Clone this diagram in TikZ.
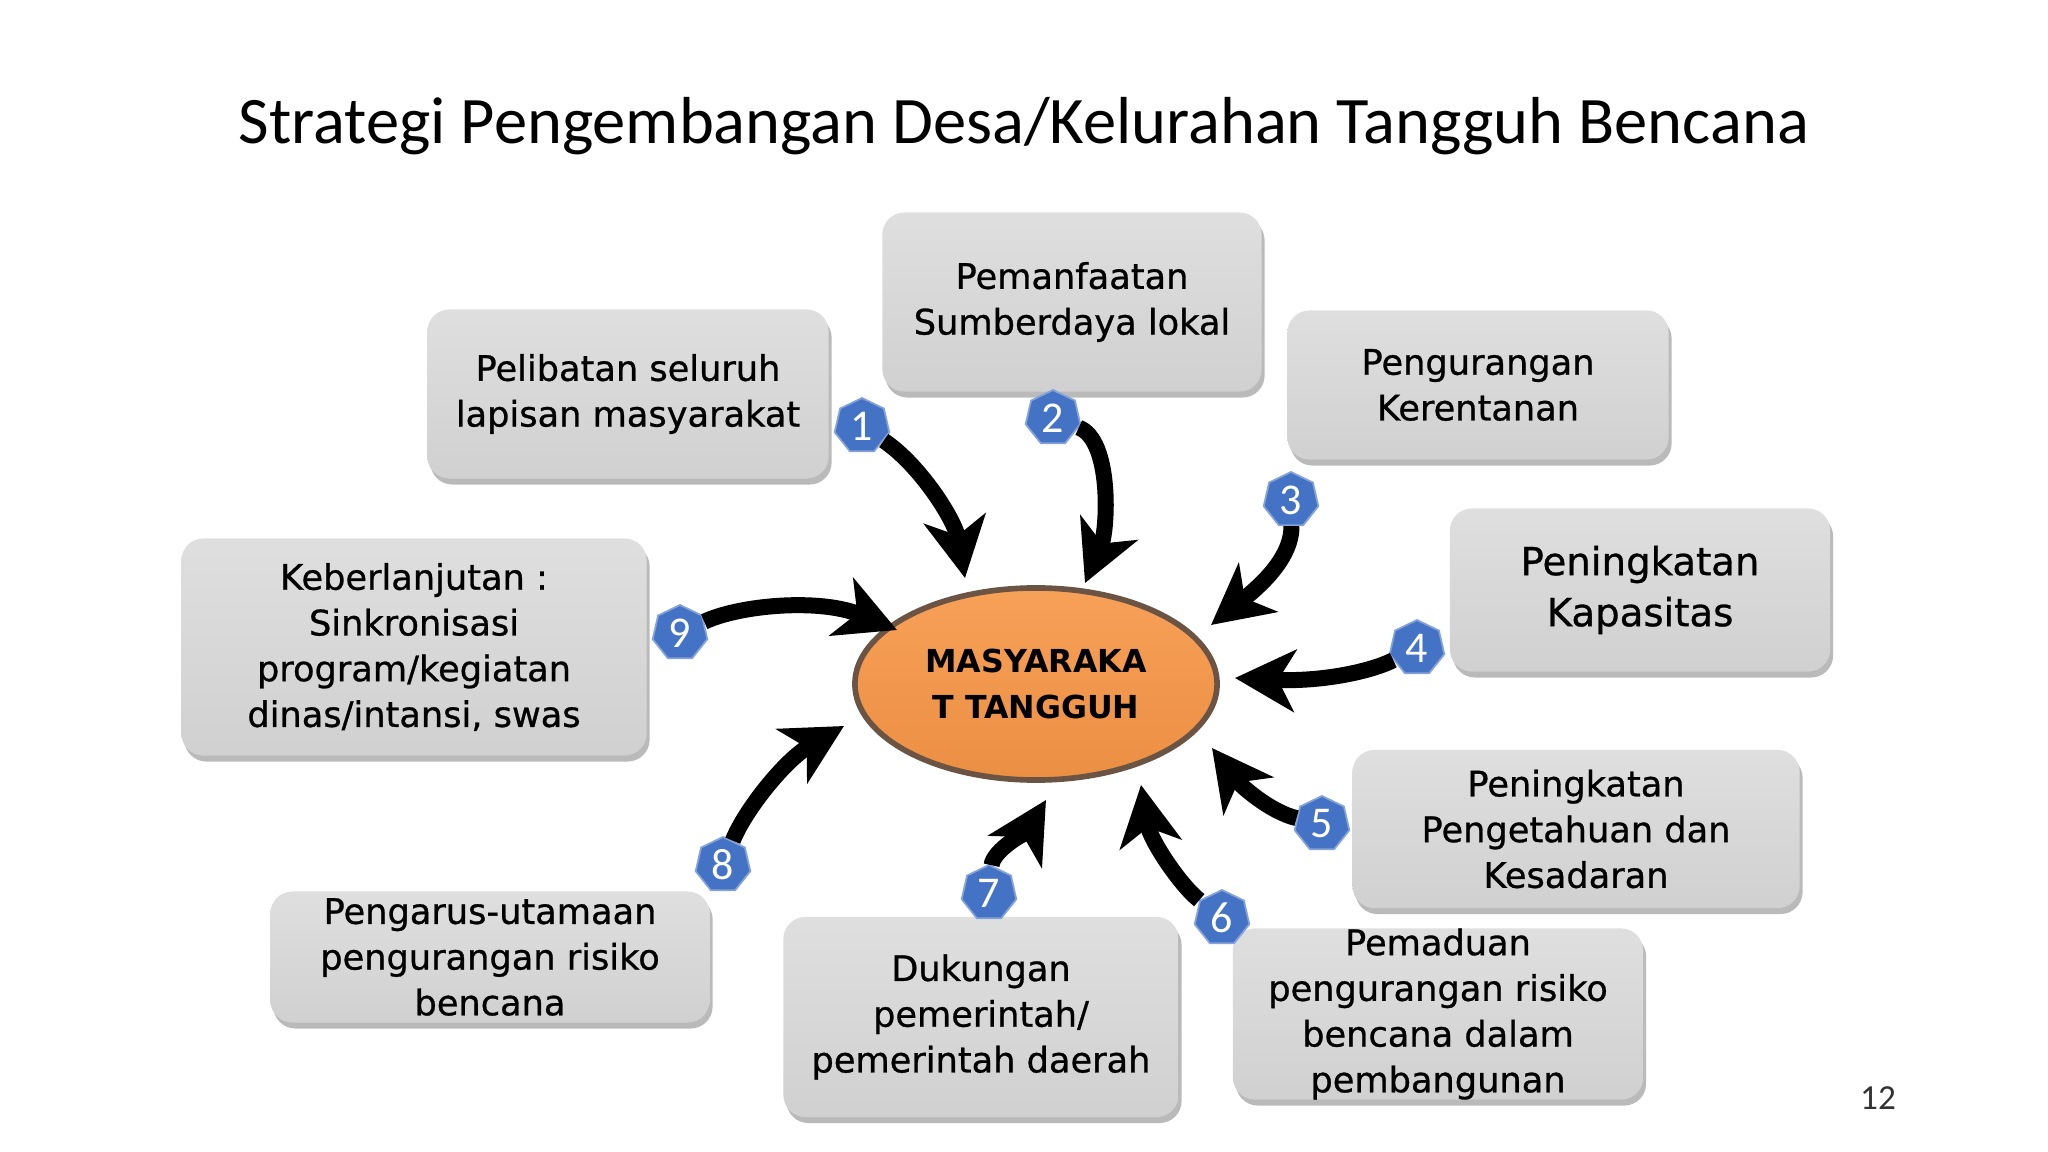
\documentclass[tikz,border=0pt]{standalone}
\usepackage{fontspec}
\setmainfont{DejaVu Sans}
\newfontfamily\boxfont{DejaVu Sans}[FakeBold=0.8]
\newfontfamily\titlefont{Carlito}
\usetikzlibrary{shapes.geometric,arrows.meta,shadows}
\definecolor{boxgray}{HTML}{D9D9D9}
\definecolor{badgeblue}{HTML}{4472C4}
\definecolor{coreorange}{HTML}{F79646}
\definecolor{coreedge}{HTML}{6B5444}
\begin{document}
\begin{tikzpicture}[x=0.01cm,y=-0.01cm,
    box/.style={rounded corners=0.22cm,top color=boxgray!85!white,bottom color=boxgray!96!black,
      align=center,inner sep=0pt,font=\boxfont\fontsize{10}{13}\selectfont,
      drop shadow={shadow xshift=0.03cm,shadow yshift=-0.06cm,fill=black!45,opacity=0.6}},
    badge/.style={regular polygon,regular polygon sides=7,minimum size=0.56cm,inner sep=0pt,
      fill=badgeblue,draw=badgeblue!65!white,line width=0.5pt,text=white,
      font=\titlefont\fontsize{12.5}{12.5}\selectfont},
    core/.style={ellipse,minimum width=3.62cm,minimum height=1.92cm,inner sep=0pt,align=center,
      top color=coreorange!90!white,bottom color=coreorange!95!black,draw=coreedge,
      line width=1.6pt,font=\bfseries\fontsize{9}{13}\selectfont},
    flow/.style={line width=0.16cm,-{Stealth[length=0.6cm,width=0.62cm,inset=0.17cm]}}]
  \useasboundingbox (0,0) rectangle (2048,1152);
  \node[font=\titlefont\fontsize{18.9}{19}\selectfont,anchor=base] (title) at (1024,144)
    {Strategi Pengembangan Desa/Kelurahan Tangguh Bencana};
  \node[core] (core) at (1036,684) {MASYARAKA\\T TANGGUH};
  % kotak strategi
  \node[box,minimum width=4.01cm,minimum height=1.69cm] (b1) at (628,394) {Pelibatan seluruh\\lapisan masyarakat};
  \node[box,minimum width=3.79cm,minimum height=1.79cm] (b2) at (1072,302) {Pemanfaatan\\Sumberdaya lokal};
  \node[box,minimum width=3.81cm,minimum height=1.49cm] (b3) at (1478,385) {Pengurangan\\Kerentanan};
  \node[box,minimum width=3.80cm,minimum height=1.63cm,font=\boxfont\fontsize{11}{14.5}\selectfont] (b4) at (1640,590) {Peningkatan\\Kapasitas};
  \node[box,minimum width=4.47cm,minimum height=1.58cm] (b5) at (1576,829) {Peningkatan\\Pengetahuan dan\\Kesadaran};
  \node[box,minimum width=4.10cm,minimum height=1.71cm] (b6) at (1438,1014) {Pemaduan\\pengurangan risiko\\bencana dalam\\pembangunan};
  \node[box,minimum width=3.95cm,minimum height=2.00cm] (b7) at (981,1017) {Dukungan\\pemerintah/\\pemerintah daerah};
  \node[box,minimum width=4.39cm,minimum height=1.31cm] (b8) at (490,957) {Pengarus-utamaan\\pengurangan risiko\\bencana};
  \node[box,minimum width=4.65cm,minimum height=2.17cm] (b9) at (414,647) {Keberlanjutan :\\Sinkronisasi\\program/kegiatan\\dinas/intansi, swas};
  % nomor
  \foreach \i/\x/\y in {1/862/426,2/1053/418,3/1291/500,4/1417/648,5/1322/824,
      6/1222/918,7/989/893,8/723/865,9/680/633}
    \node[badge] (n\i) at (\x,\y) {\i};
  \foreach \i/\x/\y in {1/965/578,2/1085/583,3/1211/625,4/1235/678,5/1212/748,
      6/1141/785,7/1046/800,8/844/726,9/897/630}
    \coordinate (t\i) at (\x,\y);
  \draw[flow] (n1) .. controls (920,465) and (955,520) .. (t1);
  \draw[flow] (n2) .. controls (1112,440) and (1108,530) .. (t2);
  \draw[flow] (n3) .. controls (1292,560) and (1255,590) .. (t3);
  \draw[flow] (n4) .. controls (1370,672) and (1320,682) .. (t4);
  \draw[flow] (n5) .. controls (1270,812) and (1240,785) .. (t5);
  \draw[flow] (n6) .. controls (1180,885) and (1150,840) .. (t6);
  \draw[flow] (n7) .. controls (993,850) and (1028,830) .. (t7);
  \draw[flow] (n8) .. controls (745,810) and (785,760) .. (t8);
  \draw[flow] (n9) .. controls (740,605) and (820,598) .. (t9);
  \node[font=\titlefont\fontsize{10}{10}\selectfont,text=black!80] (page) at (1878,1098) {12};
\end{tikzpicture}
\end{document}
